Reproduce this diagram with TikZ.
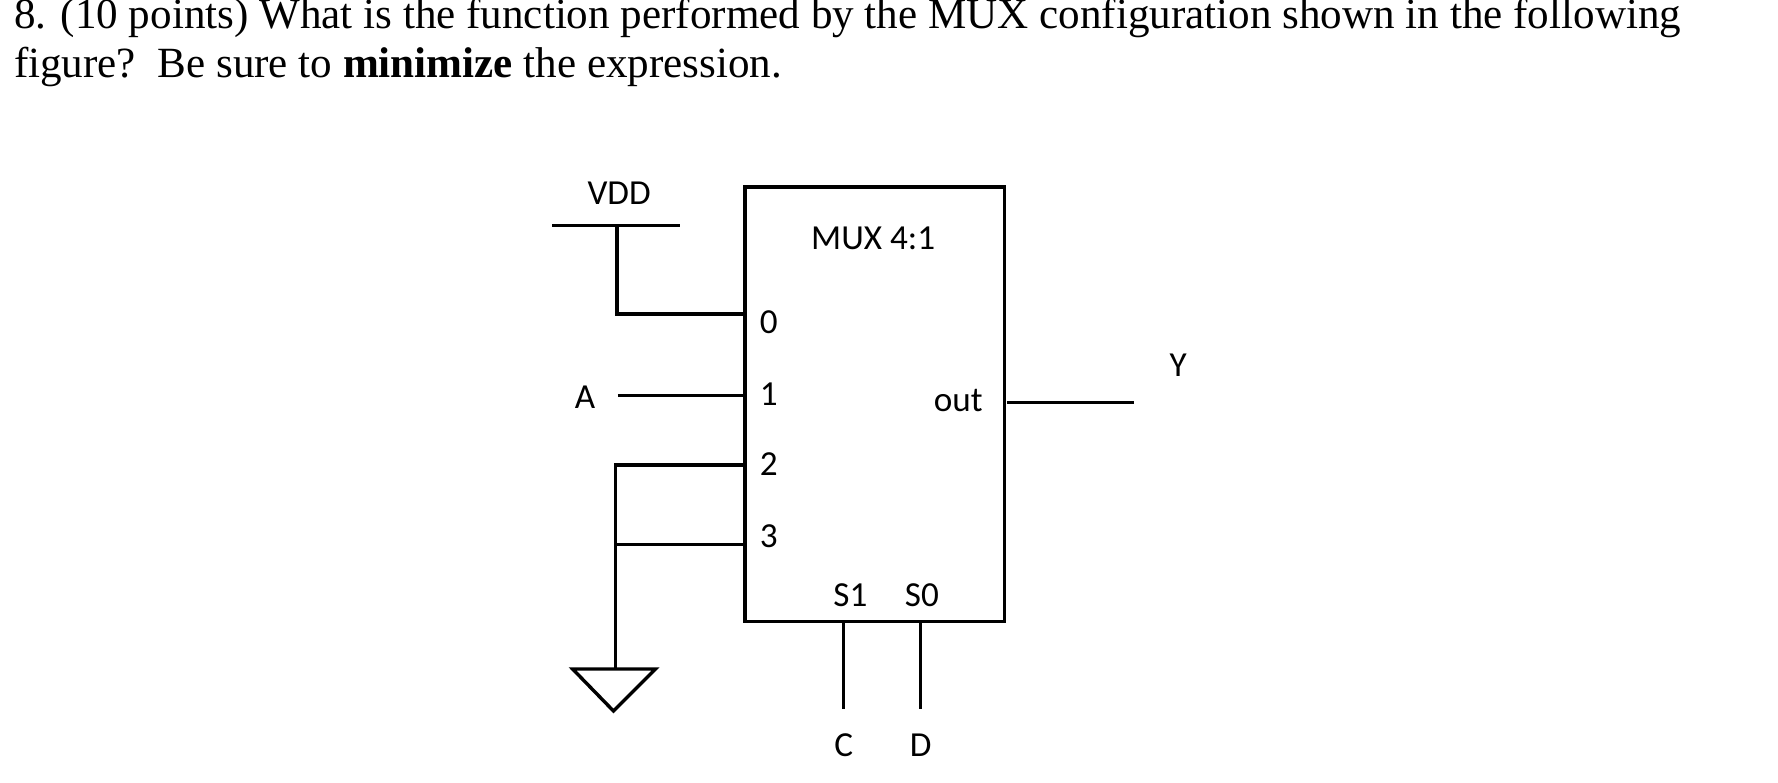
\documentclass[tikz,border=0pt]{standalone}
\usepackage{fontspec}
\setmainfont{Liberation Serif}
\newfontfamily\calfont{Carlito}
\begin{document}
\begin{tikzpicture}[x=0.5pt,y=-0.5pt,
  wire/.style={line width=1.5pt},
  lab/.style={font=\calfont\fontsize{15.5}{18}\selectfont, inner sep=0pt}]
\useasboundingbox (0,0) rectangle (1568,690);
\node[anchor=base west, inner sep=0pt, font=\fontsize{19}{22}\selectfont] (t1) at (12,25) {8. (10 points) What is the function performed by the MUX configuration shown in the following};
\node[anchor=base west, inner sep=0pt, font=\fontsize{19}{22}\selectfont] (t2) at (12,68) {figure?\ \ Be sure to \textbf{minimize} the expression.};
\node[draw, wire, minimum width=114.5pt, minimum height=191.5pt, inner sep=0pt] (mux) at (771.5,356.5) {};
\node[lab] (mt) at (770,210) {MUX 4:1};
\node[lab] (vdd) at (546,170) {VDD};
\coordinate (vl) at (487,199); \coordinate (vr) at (600,199);
\coordinate (vm) at (544,199);
\draw[wire] (vl) -- (vr);
\coordinate (i0) at (657,277);
\draw[wire] (vm) |- (i0);
\node[lab] (A) at (516,350) {A};
\coordinate (a0) at (545,349); \coordinate (i1) at (657,349);
\draw[wire] (a0) -- (i1);
\coordinate (i2) at (657,410); \coordinate (i3) at (657,480);
\coordinate (g2) at (543,410); \coordinate (g3) at (543,480); \coordinate (gt) at (543,590);
\draw[wire] (i2) -- (g2) -- (gt);
\draw[wire] (i3) -- (g3);
\coordinate (gl) at (505,590); \coordinate (gr) at (578,590); \coordinate (ga) at (541,627);
\draw[wire] (gl) -- (gr) -- (ga) -- cycle;
\node[lab] (n0) at (678,284) {0};
\node[lab] (n1) at (678,348) {1};
\node[lab] (n2) at (678,409) {2};
\node[lab] (n3) at (678,473) {3};
\node[lab] (out) at (845,353) {out};
\coordinate (o1) at (888,355); \coordinate (o2) at (1000,355);
\draw[wire] (o1) -- (o2);
\node[lab] (Y) at (1039,322) {Y};
\node[lab] (s1) at (750,525) {S1};
\node[lab] (s0) at (813,525) {S0};
\coordinate (c1) at (744,548); \coordinate (c2) at (744,625);
\coordinate (d1) at (812,548); \coordinate (d2) at (812,625);
\draw[wire] (c1) -- (c2); \draw[wire] (d1) -- (d2);
\node[lab] (C) at (744,657) {C};
\node[lab] (D) at (812,657) {D};
\end{tikzpicture}
\end{document}
